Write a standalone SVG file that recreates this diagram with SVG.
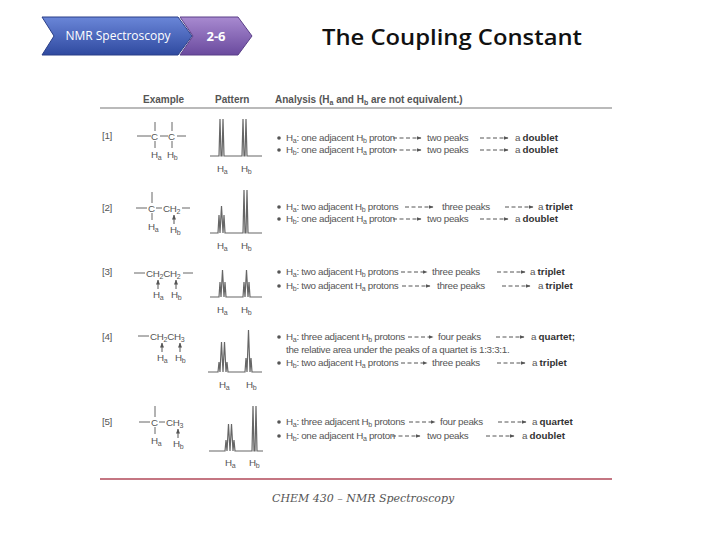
<svg xmlns="http://www.w3.org/2000/svg" width="720" height="540" viewBox="0 0 720 540">
<defs>
<linearGradient id="gb" x1="0" y1="0" x2="0" y2="1"><stop offset="0" stop-color="#6a86d8"/><stop offset="1" stop-color="#2f4aa0"/></linearGradient>
<linearGradient id="gp" x1="0" y1="0" x2="0" y2="1"><stop offset="0" stop-color="#a88ad0"/><stop offset="1" stop-color="#6a4a9e"/></linearGradient>
<marker id="ah" markerWidth="5" markerHeight="4" refX="4.5" refY="2" orient="auto" markerUnits="userSpaceOnUse"><path d="M0,0 L5,2 L0,4 z" fill="#555"/></marker>
</defs>
<style>
.t{font-family:"Liberation Sans",Arial,sans-serif;font-size:9.8px;letter-spacing:-0.3px;fill:#555}
.b{font-weight:bold;fill:#333;letter-spacing:0}
.h{font-family:"Liberation Sans",Arial,sans-serif;font-size:10px;font-weight:bold;fill:#555}
.s{font-size:7px}
.sp{stroke:#666;stroke-width:1.2;fill:none}
.bd{stroke:#666;stroke-width:1;fill:none}
.da{stroke:#555;stroke-width:1;stroke-dasharray:4,2.5;marker-end:url(#ah)}
.up{stroke:#555;stroke-width:1;marker-end:url(#ah)}
.dot{fill:#555}
</style>
<rect width="720" height="540" fill="#fff"/>
<g id="header">
<path d="M42,17 L178,17 L192,36 L178,55 L42,55 L54,36 z" fill="url(#gb)" stroke="#2a3f88"/>
<text x="118" y="40" text-anchor="middle" font-family="Open Sans,sans-serif" font-size="12" fill="#fff">NMR Spectroscopy</text>
<path d="M180,17 L238,17 L252,36 L238,55 L180,55 L193,36 z" fill="url(#gp)" stroke="#5a3f88"/>
<text x="216" y="41" text-anchor="middle" font-family="Open Sans,sans-serif" font-size="13" font-weight="bold" fill="#fff">2-6</text>
<text x="452" y="45" text-anchor="middle" font-family="Open Sans,sans-serif" font-size="22" font-weight="600" fill="#111" textLength="260" lengthAdjust="spacingAndGlyphs">The Coupling Constant</text>
</g>
<g id="table-head">
<text class="h" x="143" y="103">Example</text>
<text class="h" x="215" y="103">Pattern</text>
<text class="h" x="275" y="103">Analysis (H<tspan class="s" dy="2">a</tspan><tspan dy="-2"> and H</tspan><tspan class="s" dy="2">b</tspan><tspan dy="-2"> are not equivalent.)</tspan></text>
<line x1="100" y1="108" x2="612" y2="108" stroke="#777" stroke-width="1.2"/>
<line x1="100" y1="479" x2="612" y2="479" stroke="#b04858" stroke-width="1.5"/>
<text x="272" y="502" font-family="DejaVu Serif,serif" font-style="italic" font-size="11" fill="#555">CHEM 430 – NMR Spectroscopy</text>
</g>
<g id="row1">
<text class="t" x="102" y="139">[1]</text>
<line class="bd" x1="137" y1="136" x2="151" y2="136"/><line class="bd" x1="160" y1="136" x2="168" y2="136"/><line class="bd" x1="177" y1="136" x2="186" y2="136"/>
<line class="bd" x1="155" y1="122" x2="155" y2="131"/><line class="bd" x1="172" y1="122" x2="172" y2="131"/>
<line class="bd" x1="155" y1="141" x2="155" y2="148"/><line class="bd" x1="172" y1="141" x2="172" y2="148"/>
<text class="t" x="151" y="140">C</text><text class="t" x="168" y="140">C</text>
<text class="t" x="151" y="158">H<tspan class="s" dy="2">a</tspan></text><text class="t" x="167" y="158">H<tspan class="s" dy="2">b</tspan></text>
<path class="sp" d="M210,156 H219 L220,119 L221,156 H222 L223,119 L224,156 H242 L243,119 L244,156 H245 L246,119 L247,156 H262"/>
<text class="t" x="217" y="172">H<tspan class="s" dy="2">a</tspan></text><text class="t" x="241" y="172">H<tspan class="s" dy="2">b</tspan></text>
<circle class="dot" cx="279" cy="138" r="1.8"/>
<text class="t" x="286" y="141">H<tspan class="s" dy="2">a</tspan><tspan dy="-2">: one adjacent H</tspan><tspan class="s" dy="2">b</tspan><tspan dy="-2"> proton</tspan></text>
<line class="da" x1="393" y1="138" x2="421" y2="138"/><text class="t" x="427" y="141">two peaks</text>
<line class="da" x1="480" y1="138" x2="508" y2="138"/><text class="t" x="515" y="141">a <tspan class="b">doublet</tspan></text>
<circle class="dot" cx="279" cy="150" r="1.8"/>
<text class="t" x="286" y="153">H<tspan class="s" dy="2">b</tspan><tspan dy="-2">: one adjacent H</tspan><tspan class="s" dy="2">a</tspan><tspan dy="-2"> proton</tspan></text>
<line class="da" x1="393" y1="150" x2="421" y2="150"/><text class="t" x="427" y="153">two peaks</text>
<line class="da" x1="480" y1="150" x2="508" y2="150"/><text class="t" x="515" y="153">a <tspan class="b">doublet</tspan></text>
</g>
<g id="row2">
<text class="t" x="102" y="211">[2]</text>
<line class="bd" x1="136" y1="208" x2="147" y2="208"/><line class="bd" x1="156" y1="208" x2="162" y2="208"/><line class="bd" x1="182" y1="208" x2="190" y2="208"/>
<line class="bd" x1="152" y1="192" x2="152" y2="203"/><line class="bd" x1="152" y1="213" x2="152" y2="220"/>
<text class="t" x="148" y="212">C</text><text class="t" x="163" y="212">CH<tspan class="s" dy="2">2</tspan></text>
<line class="up" x1="174" y1="224" x2="174" y2="215"/>
<text class="t" x="148" y="230">H<tspan class="s" dy="2">a</tspan></text><text class="t" x="170" y="233">H<tspan class="s" dy="2">b</tspan></text>
<path class="sp" d="M210,233 H218 L219,215 L220,233 L221.5,206 L223,233 L224,215 L225,233 H243 L244,190 L245,233 H246 L247,190 L248,233 H262"/>
<text class="t" x="217" y="249">H<tspan class="s" dy="2">a</tspan></text><text class="t" x="241" y="249">H<tspan class="s" dy="2">b</tspan></text>
<circle class="dot" cx="279" cy="207" r="1.8"/>
<text class="t" x="286" y="210">H<tspan class="s" dy="2">a</tspan><tspan dy="-2">: two adjacent H</tspan><tspan class="s" dy="2">b</tspan><tspan dy="-2"> protons</tspan></text>
<line class="da" x1="405" y1="207" x2="433" y2="207"/><text class="t" x="442" y="210">three peaks</text>
<line class="da" x1="505" y1="207" x2="533" y2="207"/><text class="t" x="538" y="210">a <tspan class="b">triplet</tspan></text>
<circle class="dot" cx="279" cy="219" r="1.8"/>
<text class="t" x="286" y="222">H<tspan class="s" dy="2">b</tspan><tspan dy="-2">: one adjacent H</tspan><tspan class="s" dy="2">a</tspan><tspan dy="-2"> proton</tspan></text>
<line class="da" x1="393" y1="219" x2="421" y2="219"/><text class="t" x="427" y="222">two peaks</text>
<line class="da" x1="480" y1="219" x2="508" y2="219"/><text class="t" x="515" y="222">a <tspan class="b">doublet</tspan></text>
</g>
<g id="row3">
<text class="t" x="102" y="275">[3]</text>
<line class="bd" x1="134" y1="273" x2="145" y2="273"/><line class="bd" x1="183" y1="273" x2="193" y2="273"/>
<text class="t" x="146" y="277">CH<tspan class="s" dy="2">2</tspan><tspan dy="-2">CH</tspan><tspan class="s" dy="2">2</tspan></text>
<line class="up" x1="158" y1="289" x2="158" y2="280"/><line class="up" x1="176" y1="289" x2="176" y2="280"/>
<text class="t" x="153" y="298">H<tspan class="s" dy="2">a</tspan></text><text class="t" x="171" y="298">H<tspan class="s" dy="2">b</tspan></text>
<path class="sp" d="M210,297 H219 L220,282 L221,297 L222.5,270 L224,297 L225,282 L226,297 H243 L244,282 L245,297 L246.5,270 L248,297 L249,282 L250,297 H262"/>
<text class="t" x="217" y="313">H<tspan class="s" dy="2">a</tspan></text><text class="t" x="241" y="313">H<tspan class="s" dy="2">b</tspan></text>
<circle class="dot" cx="279" cy="272" r="1.8"/>
<text class="t" x="286" y="275">H<tspan class="s" dy="2">a</tspan><tspan dy="-2">: two adjacent H</tspan><tspan class="s" dy="2">b</tspan><tspan dy="-2"> protons</tspan></text>
<line class="da" x1="401" y1="272" x2="427" y2="272"/><text class="t" x="432" y="275">three peaks</text>
<line class="da" x1="497" y1="272" x2="525" y2="272"/><text class="t" x="530" y="275">a <tspan class="b">triplet</tspan></text>
<circle class="dot" cx="279" cy="286" r="1.8"/>
<text class="t" x="286" y="289">H<tspan class="s" dy="2">b</tspan><tspan dy="-2">: two adjacent H</tspan><tspan class="s" dy="2">a</tspan><tspan dy="-2"> protons</tspan></text>
<line class="da" x1="402" y1="286" x2="430" y2="286"/><text class="t" x="437" y="289">three peaks</text>
<line class="da" x1="502" y1="286" x2="530" y2="286"/><text class="t" x="538" y="289">a <tspan class="b">triplet</tspan></text>
</g>
<g id="row4">
<text class="t" x="102" y="340">[4]</text>
<line class="bd" x1="138" y1="336" x2="149" y2="336"/>
<text class="t" x="150" y="340">CH<tspan class="s" dy="2">2</tspan><tspan dy="-2">CH</tspan><tspan class="s" dy="2">3</tspan></text>
<line class="up" x1="162" y1="352" x2="162" y2="343"/><line class="up" x1="180" y1="352" x2="180" y2="343"/>
<text class="t" x="157" y="361">H<tspan class="s" dy="2">a</tspan></text><text class="t" x="175" y="361">H<tspan class="s" dy="2">b</tspan></text>
<path class="sp" d="M208,372 H218 L219,362 L220,372 L221.5,342 L223,372 L224.5,342 L226,372 L227,362 L228,372 H245 L246,358 L247,372 L248.5,330 L250,372 L251,358 L252,372 H262"/>
<text class="t" x="219" y="388">H<tspan class="s" dy="2">a</tspan></text><text class="t" x="246" y="388">H<tspan class="s" dy="2">b</tspan></text>
<circle class="dot" cx="279" cy="337" r="1.8"/>
<text class="t" x="286" y="340">H<tspan class="s" dy="2">a</tspan><tspan dy="-2">: three adjacent H</tspan><tspan class="s" dy="2">b</tspan><tspan dy="-2"> protons</tspan></text>
<line class="da" x1="408" y1="337" x2="433" y2="337"/><text class="t" x="438" y="340">four peaks</text>
<line class="da" x1="496" y1="337" x2="524" y2="337"/><text class="t" x="531" y="340">a <tspan class="b">quartet;</tspan></text>
<text class="t" x="286" y="353">the relative area under the peaks of a quartet is 1:3:3:1.</text>
<circle class="dot" cx="279" cy="363" r="1.8"/>
<text class="t" x="286" y="366">H<tspan class="s" dy="2">b</tspan><tspan dy="-2">: two adjacent H</tspan><tspan class="s" dy="2">a</tspan><tspan dy="-2"> protons</tspan></text>
<line class="da" x1="401" y1="363" x2="427" y2="363"/><text class="t" x="432" y="366">three peaks</text>
<line class="da" x1="497" y1="363" x2="525" y2="363"/><text class="t" x="532" y="366">a <tspan class="b">triplet</tspan></text>
</g>
<g id="row5">
<text class="t" x="102" y="425">[5]</text>
<line class="bd" x1="139" y1="422" x2="150" y2="422"/><line class="bd" x1="159" y1="422" x2="165" y2="422"/>
<line class="bd" x1="155" y1="406" x2="155" y2="417"/><line class="bd" x1="155" y1="427" x2="155" y2="434"/>
<text class="t" x="151" y="426">C</text><text class="t" x="166" y="426">CH<tspan class="s" dy="2">3</tspan></text>
<line class="up" x1="178" y1="438" x2="178" y2="429"/>
<text class="t" x="151" y="444">H<tspan class="s" dy="2">a</tspan></text><text class="t" x="173" y="447">H<tspan class="s" dy="2">b</tspan></text>
<path class="sp" d="M209,451 H225 L226,440 L227,451 L228.5,424 L230,451 L231.5,424 L233,451 L234,440 L235,451 H252 L253,406 L254,451 H255 L256,406 L257,451 H263"/>
<text class="t" x="225" y="466">H<tspan class="s" dy="2">a</tspan></text><text class="t" x="249" y="466">H<tspan class="s" dy="2">b</tspan></text>
<circle class="dot" cx="279" cy="422" r="1.8"/>
<text class="t" x="286" y="425">H<tspan class="s" dy="2">a</tspan><tspan dy="-2">: three adjacent H</tspan><tspan class="s" dy="2">b</tspan><tspan dy="-2"> protons</tspan></text>
<line class="da" x1="409" y1="422" x2="435" y2="422"/><text class="t" x="440" y="425">four peaks</text>
<line class="da" x1="498" y1="422" x2="526" y2="422"/><text class="t" x="532" y="425">a <tspan class="b">quartet</tspan></text>
<circle class="dot" cx="279" cy="436" r="1.8"/>
<text class="t" x="286" y="439">H<tspan class="s" dy="2">b</tspan><tspan dy="-2">: one adjacent H</tspan><tspan class="s" dy="2">a</tspan><tspan dy="-2"> proton</tspan></text>
<line class="da" x1="392" y1="436" x2="420" y2="436"/><text class="t" x="427" y="439">two peaks</text>
<line class="da" x1="486" y1="436" x2="514" y2="436"/><text class="t" x="522" y="439">a <tspan class="b">doublet</tspan></text>
</g>
</svg>
